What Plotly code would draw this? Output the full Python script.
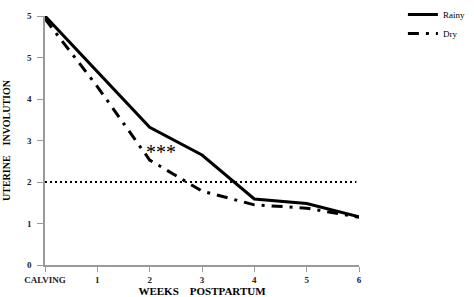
import plotly.graph_objects as go

weeks = [0, 1, 2, 3, 4, 5, 6]
x_tick_labels = ["CALVING", "1", "2", "3", "4", "5", "6"]
y_tick_vals = [0, 1, 2, 3, 4, 5, 6]
y_tick_labels = ["0", "1", "2", "3", "4", "5", "5"]
rainy = [6.0, 4.65, 3.32, 2.65, 1.59, 1.48, 1.16]
dry = [5.93, 4.3, 2.53, 1.78, 1.45, 1.37, 1.15]
threshold_x = [0, 5.95]
threshold_y = [2, 2]

serif = "Liberation Serif"

fig = go.Figure()
fig.add_trace(go.Scatter(x=threshold_x, y=threshold_y, mode="lines",
                         line=dict(color="black", width=2, dash="2px,3px"),
                         showlegend=False, hoverinfo="skip"))
fig.add_trace(go.Scatter(x=weeks, y=rainy, mode="lines", name="Rainy",
                         line=dict(color="black", width=3)))
fig.add_trace(go.Scatter(x=weeks, y=dry, mode="lines", name="Dry",
                         line=dict(color="black", width=3, dash="11px,7px,3px,7px")))

fig.add_annotation(x=2.22, y=2.72, text="***", showarrow=False,
                   font=dict(family=serif, size=20, color="black"))

fig.update_layout(
    width=474, height=297,
    margin=dict(l=45, r=115, t=16, b=32, autoexpand=False),
    paper_bgcolor="white", plot_bgcolor="white",
    font=dict(family=serif, color="black"),
    legend=dict(xref="container", yref="container", x=0.85, y=1.075,
                xanchor="left", yanchor="top",
                font=dict(family=serif, size=9, color="black"),
                bgcolor="rgba(0,0,0,0)", tracegroupgap=0, itemwidth=30),
)
fig.update_xaxes(range=[0, 6], tickvals=weeks, automargin=False,
                 ticktext=["<b>%s</b>" % t for t in x_tick_labels],
                 showgrid=False, zeroline=False, showline=True, linecolor="#9a9a9a",
                 linewidth=1.5, ticks="outside", ticklen=5, tickcolor="#9a9a9a",
                 tickfont=dict(family=serif, size=9, color="#222"),
                 title=dict(text="<b>WEEKS    POSTPARTUM</b>", standoff=8,
                            font=dict(family=serif, size=11, color="black")))
fig.update_yaxes(range=[0, 6], tickvals=y_tick_vals, automargin=False,
                 ticktext=["<b>%s</b>" % t for t in y_tick_labels],
                 showgrid=False, zeroline=False, showline=True, linecolor="#9a9a9a",
                 linewidth=1.5, ticks="outside", ticklen=6, tickcolor="#9a9a9a",
                 ticklabelstandoff=4,
                 tickfont=dict(family=serif, size=9, color="#222"),
                 title=dict(text="<b>UTERINE    INVOLUTION</b>", standoff=14,
                            font=dict(family=serif, size=10, color="black")))

fig.write_html("out.html")
